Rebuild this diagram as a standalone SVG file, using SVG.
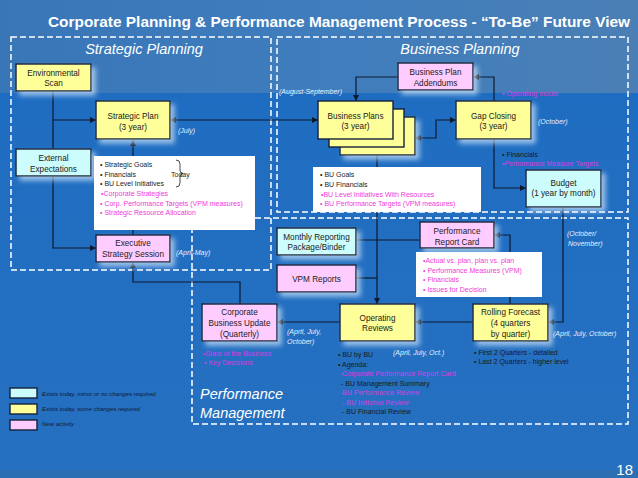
<svg xmlns="http://www.w3.org/2000/svg" width="638" height="478" viewBox="0 0 638 478">
<defs>
<linearGradient id="bgTop" x1="0" y1="0" x2="1" y2="0">
<stop offset="0" stop-color="#3876b8"/><stop offset="0.5" stop-color="#3f7dbd"/><stop offset="1" stop-color="#4a7fb5"/>
</linearGradient>
<linearGradient id="bgMain" x1="0" y1="0" x2="0" y2="1">
<stop offset="0" stop-color="#1d6cc2"/><stop offset="1" stop-color="#2670c0"/>
</linearGradient>
<filter id="sh" x="-20%" y="-30%" width="150%" height="170%">
<feGaussianBlur in="SourceAlpha" stdDeviation="2.5" result="b"/>
<feOffset in="b" dx="4" dy="4" result="o"/>
<feFlood flood-color="#d8ecff" flood-opacity="0.65"/>
<feComposite in2="o" operator="in" result="s"/>
<feMerge><feMergeNode in="s"/><feMergeNode in="SourceGraphic"/></feMerge>
</filter>
<marker id="arr" viewBox="0 0 6 6" refX="6" refY="3" markerWidth="6" markerHeight="6" markerUnits="userSpaceOnUse" orient="auto-start-reverse">
<path d="M0,0 L6,3 L0,6 z" fill="#0d1a2e"/>
</marker>
<style>
.t{font-family:"Liberation Sans",Arial,sans-serif;}
.nt{font-family:"Liberation Sans",Arial,sans-serif;font-size:8.2px;fill:#1a1a1a;text-anchor:middle;}
.bt{font-family:"Liberation Sans",Arial,sans-serif;font-size:7px;fill:#1a1a1a;}
.mg{fill:#f03ad8;}
.mb{fill:#d040e4;}
.it{font-family:"Liberation Sans",Arial,sans-serif;font-size:7px;font-style:italic;fill:#e6eefc;}
.sec{font-family:"Liberation Sans",Arial,sans-serif;font-size:14.5px;font-style:italic;fill:#ffffff;}
.y{fill:#ffff99;stroke:#14213a;stroke-width:1.4;}
.p{fill:#ffccff;stroke:#14213a;stroke-width:1.4;}
.c{fill:#ccfcfc;stroke:#14213a;stroke-width:1.4;}
.wb{fill:#ffffff;}
.reg{fill:none;stroke:#ffffff;stroke-width:1.5;stroke-dasharray:6 3;}
.cn{fill:none;stroke:#0d1a2e;stroke-width:1.2;}
.lg{font-family:"Liberation Sans",Arial,sans-serif;font-size:6px;font-style:italic;fill:#111a33;}
</style>
</defs>

<g id="background">
<rect x="0" y="0" width="638" height="478" fill="url(#bgMain)"/>
<rect x="0" y="0" width="638" height="93" fill="url(#bgTop)"/>
<rect x="0" y="470" width="638" height="8" fill="#2d6fb3"/>
</g>

<text class="t" x="339" y="27" font-size="14px" font-weight="bold" fill="#ffffff" text-anchor="middle" textLength="582" lengthAdjust="spacingAndGlyphs">Corporate Planning &amp; Performance Management Process - “To-Be” Future View</text>

<g id="regions">
<rect class="reg" x="11" y="37" width="260" height="233"/>
<rect class="reg" x="277" y="37" width="351" height="175"/>
<rect class="reg" x="192" y="218" width="436" height="206"/>
<text class="sec" x="144" y="54" text-anchor="middle">Strategic Planning</text>
<text class="sec" x="460" y="54" text-anchor="middle">Business Planning</text>
<text class="sec" x="200" y="399">Performance</text>
<text class="sec" x="200" y="418">Management</text>
</g>

<g id="connectors">
<path class="cn" d="M53,91 V248 H96" marker-end="url(#arr)"/>
<path class="cn" d="M53,120 H96" marker-end="url(#arr)"/>
<path class="cn" d="M170,120 H318" marker-start="url(#arr)" marker-end="url(#arr)"/>
<path class="cn" d="M133,235 V140" marker-end="url(#arr)"/>
<path class="cn" d="M240,304 V282 H133 V262" marker-end="url(#arr)"/>
<path class="cn" d="M398,77 H356 V101" marker-end="url(#arr)"/>
<path class="cn" d="M494,101 V77 H473" marker-end="url(#arr)"/>
<path class="cn" d="M415,138 H436 V120 H456" marker-start="url(#arr)" marker-end="url(#arr)"/>
<path class="cn" d="M494,139 V188 H526" marker-end="url(#arr)"/>
<path class="cn" d="M377,155 V304" marker-end="url(#arr)"/>
<path class="cn" d="M356,240 H420"/>
<path class="cn" d="M356,278 H377"/>
<path class="cn" d="M510,304 V235 H494" marker-end="url(#arr)"/>
<path class="cn" d="M563,207 V322 H548" marker-end="url(#arr)"/>
<path class="cn" d="M473,322 H415" marker-end="url(#arr)"/>
<path class="cn" d="M340,322 H277" marker-end="url(#arr)"/>
</g>

<g id="env-scan">
<rect class="y" x="16" y="64" width="75" height="27" filter="url(#sh)"/>
<text class="nt" x="53.5" y="75.5">Environmental</text>
<text class="nt" x="53.5" y="86">Scan</text>
</g>

<g id="strategic-plan">
<rect class="y" x="96" y="101" width="74" height="38" filter="url(#sh)"/>
<text class="nt" x="133" y="119">Strategic Plan</text>
<text class="nt" x="133" y="129.5">(3 year)</text>
</g>
<text class="it" x="178" y="133">(July)</text>

<g id="external-expectations">
<rect class="c" x="16" y="149" width="75" height="27" filter="url(#sh)"/>
<text class="nt" x="53.5" y="161">External</text>
<text class="nt" x="53.5" y="172">Expectations</text>
</g>

<g id="strategic-notes">
<rect class="wb" x="94" y="156" width="161" height="74"/>
<text class="bt" x="100" y="167">• Strategic Goals</text>
<text class="bt" x="100" y="176.5">• Financials</text>
<text class="bt" x="100" y="186">• BU Level Initiatives</text>
<text class="bt mg" x="101" y="196">•Corporate Strategies</text>
<text class="bt mg" x="100" y="205.5">• Corp. Performance Targets (VPM measures)</text>
<text class="bt mg" x="100" y="215">• Strategic Resource Allocation</text>
<text class="bt" x="171" y="176.5">Today</text>
<path d="M176,160 Q180,160 180,164 V170 Q180,173.5 183,173.5 Q180,173.5 180,177 V183 Q180,187 176,187" fill="none" stroke="#1a1a1a" stroke-width="0.8"/>
</g>

<g id="executive-session">
<rect class="p" x="96" y="235" width="74" height="27" filter="url(#sh)"/>
<text class="nt" x="133" y="246">Executive</text>
<text class="nt" x="133" y="257">Strategy Session</text>
</g>
<text class="it mb" x="176" y="255">(April-May)</text>

<g id="corporate-update">
<rect class="p" x="202" y="304" width="75" height="37" filter="url(#sh)"/>
<text class="nt" x="239.5" y="315">Corporate</text>
<text class="nt" x="239.5" y="326">Business Update</text>
<text class="nt" x="239.5" y="337">(Quarterly)</text>
</g>
<text class="bt mb" x="203" y="356">•State of the Business</text>
<text class="bt mb" x="204" y="365">• Key Decisions</text>
<text class="it" x="287" y="334">(April, July,</text>
<text class="it" x="287" y="343.5">October)</text>

<g id="bp-addendums">
<rect class="p" x="398" y="63" width="75" height="27" filter="url(#sh)"/>
<text class="nt" x="435.5" y="75" font-size="9px">Business Plan</text>
<text class="nt" x="435.5" y="85.5" font-size="9px">Addendums</text>
</g>
<text class="it" x="279" y="94">(August-September)</text>
<text class="bt mb" x="502" y="96">• Operating model</text>

<g id="business-plans">
<rect class="y" x="340" y="117" width="75" height="38" filter="url(#sh)"/>
<rect class="y" x="329" y="109" width="75" height="38"/>
<rect class="y" x="318" y="101" width="75" height="38"/>
<text class="nt" x="355.5" y="118.5">Business Plans</text>
<text class="nt" x="355.5" y="129">(3 year)</text>
</g>

<g id="gap-closing">
<rect class="y" x="456" y="101" width="75" height="38" filter="url(#sh)"/>
<text class="nt" x="493.5" y="118.5">Gap Closing</text>
<text class="nt" x="493.5" y="129">(3 year)</text>
</g>
<text class="it" x="538" y="123.5">(October)</text>
<text class="bt" x="502" y="156.5">• Financials</text>
<text class="bt mb" x="502" y="165.5">•Performance Measure Targets</text>

<g id="budget">
<rect class="c" x="526" y="170" width="75" height="37" filter="url(#sh)"/>
<text class="nt" x="563.5" y="185.5">Budget</text>
<text class="nt" x="563.5" y="196">(1 year by month)</text>
</g>

<g id="bu-notes">
<rect class="wb" x="313" y="167" width="168" height="45"/>
<text class="bt" x="320" y="177">• BU Goals</text>
<text class="bt" x="320" y="186.5">• BU Financials</text>
<text class="bt mg" x="321" y="196.5">•BU Level Initiatives With Resources</text>
<text class="bt mg" x="320" y="206">• BU Performance Targets (VPM measures)</text>
</g>

<g id="monthly-reporting">
<rect class="c" x="277" y="228" width="79" height="27" filter="url(#sh)"/>
<text class="nt" x="316.5" y="239.5">Monthly Reporting</text>
<text class="nt" x="316.5" y="250">Package/Binder</text>
</g>

<g id="vpm-reports">
<rect class="p" x="277" y="265" width="79" height="27" filter="url(#sh)"/>
<text class="nt" x="316.5" y="282">VPM Reports</text>
</g>

<g id="perf-report-card">
<rect class="p" x="420" y="222" width="74" height="26" filter="url(#sh)"/>
<text class="nt" x="457" y="234">Performance</text>
<text class="nt" x="457" y="244.5">Report Card</text>
</g>
<text class="it" x="567" y="235.5">(October/</text>
<text class="it" x="568" y="246">November)</text>

<g id="perf-notes">
<rect class="wb" x="416" y="252" width="126" height="45"/>
<text class="bt mg" x="423" y="263">•Actual vs. plan, plan vs. plan</text>
<text class="bt mg" x="423" y="272.5">• Performance Measures (VPM)</text>
<text class="bt mg" x="423" y="282">• Financials</text>
<text class="bt mg" x="423" y="291.5">• Issues for Decision</text>
</g>

<g id="operating-reviews">
<rect class="y" x="340" y="304" width="75" height="37" filter="url(#sh)"/>
<text class="nt" x="377.5" y="320.5">Operating</text>
<text class="nt" x="377.5" y="331">Reviews</text>
</g>
<text class="it" x="393" y="354.5">(April, July, Oct.)</text>
<text class="bt" x="338" y="357">• BU by BU</text>
<text class="bt" x="338" y="366.5">• Agenda:</text>
<text class="bt mb" x="340" y="376">-Corporate Performance Report Card</text>
<text class="bt" x="341" y="385.5">- BU Management Summary</text>
<text class="bt mb" x="340" y="395">-BU Performance Review</text>
<text class="bt mb" x="342" y="404.5">- BU Initiative Review</text>
<text class="bt" x="342" y="414">- BU Financial Review</text>

<g id="rolling-forecast">
<rect class="y" x="473" y="304" width="75" height="37" filter="url(#sh)"/>
<text class="nt" x="510.5" y="315">Rolling Forecast</text>
<text class="nt" x="510.5" y="326">(4 quarters</text>
<text class="nt" x="510.5" y="336.5">by quarter)</text>
</g>
<text class="it" x="553" y="335.5">(April, July, October)</text>
<text class="bt" x="474" y="354.5">• First 2 Quarters - detailed</text>
<text class="bt" x="474" y="364">• Last 2 Quarters - higher level</text>

<g id="legend">
<rect class="c" x="10" y="388" width="27" height="10"/>
<rect class="y" x="10" y="404" width="27" height="10"/>
<rect class="p" x="10" y="420" width="27" height="10"/>
<text class="lg" x="42" y="395.5">Exists today, minor or no changes required</text>
<text class="lg" x="42" y="410.5">Exists today, some changes required</text>
<text class="lg" x="42" y="425.5">New activity</text>
</g>

<text class="t" x="633" y="475" font-size="15px" fill="#ffffff" text-anchor="end">18</text>
</svg>
